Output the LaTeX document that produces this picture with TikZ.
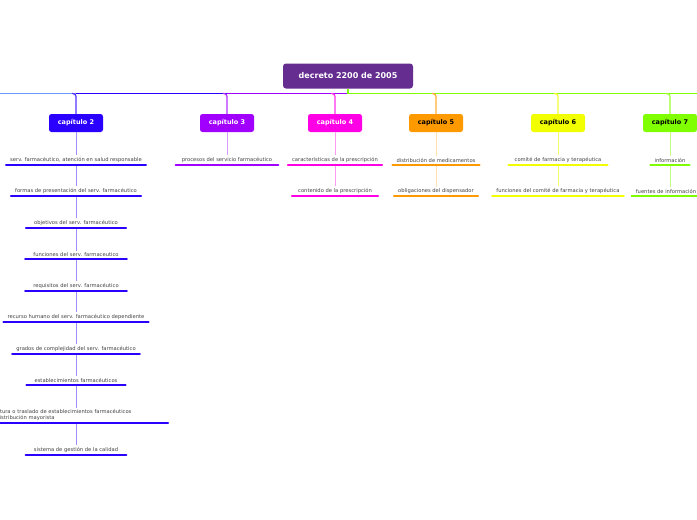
\documentclass[tikz,border=0pt]{standalone}
\usepackage{fontspec}
\setmainfont{DejaVu Sans}
\definecolor{c2}{HTML}{2A00FF}\definecolor{c3}{HTML}{A100FF}\definecolor{c4}{HTML}{FF00E6}
\definecolor{c5}{HTML}{FF9900}\definecolor{c6}{HTML}{F2FF00}\definecolor{c7}{HTML}{80FF00}
\definecolor{rootc}{HTML}{662D91}\definecolor{c1}{HTML}{6A9CFF}
\begin{document}
\begin{tikzpicture}[x=1pt,y=-1pt,
 chap/.style={rounded corners=2.5pt,minimum width=54pt,minimum height=18pt,font=\fontsize{6.5}{7}\selectfont\bfseries,inner sep=0pt},
 item/.style={font=\fontsize{5.2}{5.8}\selectfont,text=black!75,inner xsep=4pt,inner ysep=2pt,anchor=south},
 ul/.style={line width=2.2pt,line cap=round},
 conn/.style={line width=0.8pt},
 hconn/.style={line width=1.3pt}]
\useasboundingbox (0,0) rectangle (697,520);
\node[rounded corners=3pt,fill=rootc,text=white,minimum width=130pt,minimum height=25pt,font=\fontsize{8}{9}\selectfont\bfseries] (root) at (348,76) {decreto 2200 de 2005};
\fill[c1] (0,92.8) rectangle (76,94.2);
\fill[c2] (76,92.8) rectangle (227,94.2);
\fill[c3] (227,92.8) rectangle (348,94.2);
\fill[c7] (348,92.8) rectangle (697,94.2);
\draw[hconn,c7] (root.south) -- (348,93.5);
\foreach \n/\x/\c/\t/\tc in {2/76/c2/capítulo 2/white,3/227/c3/capítulo 3/white,4/335/c4/capítulo 4/white,5/436/c5/capítulo 5/black,6/558/c6/capítulo 6/black,7/670/c7/capítulo 7/black}{
 \node[chap,fill=\c,text=\tc] (k\n) at (\x,123) {\t};
 \draw[hconn,\c!80,rounded corners=3pt] (\x-4,93.5) -- (\x,93.5) -- (k\n.north);
}
\begin{scope}
\clip (0,0) rectangle (697,520);
\node[item] (a1) at (76,165) {serv. farmacéutico, atención en salud responsable};
\node[item] (a2) at (76,196) {formas de presentación del serv. farmacéutico};
\node[item,inner xsep=8pt] (a3) at (76,228) {objetivos del serv. farmacéutico};
\node[item,inner xsep=8pt] (a4) at (76,259) {funciones del serv. farmaceutico};
\node[item,inner xsep=8pt] (a5) at (76,291) {requisitos del serv. farmacéutico};
\node[item] (a6) at (76,322) {recurso humano del serv. farmacéutico dependiente};
\node[item] (a7) at (76,354) {grados de complejidad del serv. farmacéutico};
\node[item,inner xsep=8pt] (a8) at (76,385) {establecimientos farmacéuticos};
\node[item,align=left,inner xsep=0pt,anchor=south west,text width=184pt] (a9) at (-12,423) {apertura o traslado de establecimientos farmacéuticos\\ de distribución mayorista};
\node[item,inner xsep=8pt] (a10) at (76,455) {sistema de gestión de la calidad};
\draw[conn,c2!45] (k2.south) -- (a1.north);
\foreach \i/\j in {1/2,2/3,3/4,4/5,5/6,6/7,7/8,8/9,9/10}{
 \draw[conn,c2!45] (76,0|-a\i.south) -- (76,0|-a\j.north);}
\foreach \i in {1,...,8,10}{\draw[ul,c2] (a\i.south west) -- (a\i.south east);}
\draw[ul,c2] (a9.south west) -- (168,0|-a9.south);
\node[item,inner xsep=6pt] (b1) at (227,165) {procesos del servicio farmacéutico};
\draw[conn,c3!40] (k3.south) -- (b1.north);
\draw[ul,c3] (b1.south west) -- (b1.south east);
\node[item] (d1) at (335,165) {características de la prescripción};
\node[item,inner xsep=6pt] (d2) at (335,196) {contenido de la prescripción};
\draw[conn,c4!40] (k4.south) -- (d1.north);
\draw[conn,c4!40] (d1.south) -- (d2.north);
\draw[ul,c4] (d1.south west) -- (d1.south east);
\draw[ul,c4] (d2.south west) -- (d2.south east);
\node[item] (e1) at (436,165) {distribución de medicamentos};
\node[item] (e2) at (436,196) {obligaciones del dispensador};
\draw[conn,c5!30] (k5.south) -- (e1.north);
\draw[conn,c5!30] (e1.south) -- (e2.north);
\draw[ul,c5] (e1.south west) -- (e1.south east);
\draw[ul,c5] (e2.south west) -- (e2.south east);
\node[item,inner xsep=6pt] (f1) at (558,165) {comité de farmacia y terapéutica};
\node[item] (f2) at (558,196) {funciones del comité de farmacia y terapéutica};
\draw[conn,c6!60] (k6.south) -- (f1.north);
\draw[conn,c6!60] (f1.south) -- (f2.north);
\draw[ul,c6] (f1.south west) -- (f1.south east);
\draw[ul,c6] (f2.south west) -- (f2.south east);
\node[item] (g1) at (670,165) {información};
\node[item] (g2) at (666,196) {fuentes de información};
\draw[conn,c7!50] (k7.south) -- (g1.north);
\draw[conn,c7!50] (g1.south) -- (670,0|-g2.north);
\draw[ul,c7] (g1.south west) -- (g1.south east);
\draw[ul,c7] (g2.south west) -- (g2.south east);
\end{scope}
\end{tikzpicture}
\end{document}
